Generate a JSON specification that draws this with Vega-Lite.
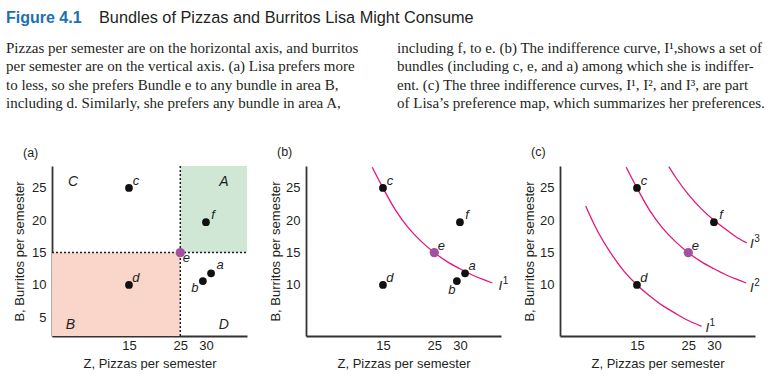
{
  "$schema": "https://vega.github.io/schema/vega-lite/v6.json",
  "padding": {"left": 6, "top": 0, "right": 0, "bottom": 0},
  "background": "white",
  "config": {
    "view": {"stroke": null},
    "axis": {
      "domainColor": "#333333", "domainWidth": 1.8, "ticks": false, "grid": false,
      "labelFont": "Liberation Sans", "labelFontSize": 13, "labelColor": "#231f20", "labelPadding": 6,
      "titleFont": "Liberation Sans", "titleFontSize": 13, "titleFontWeight": "normal", "titleColor": "#231f20"
    },
    "axisX": {"labelPadding": 3, "titlePadding": 5},
    "title": {"font": "Liberation Sans", "fontSize": 12.5, "fontWeight": "normal", "color": "#231f20", "anchor": "start", "frame": "group", "dx": -29, "offset": 6}
  },
  "datasets": {
    "header": [
      {"kind": "figure", "col": 0, "line": 0, "text": "Figure 4.1"},
      {"kind": "heading", "col": 0, "line": 0, "text": "Bundles of Pizzas and Burritos Lisa Might Consume"},
      {"kind": "para", "col": 0, "line": 1, "text": "Pizzas per semester are on the horizontal axis, and burritos"},
      {"kind": "para", "col": 0, "line": 2, "text": "per semester are on the vertical axis. (a) Lisa prefers more"},
      {"kind": "para", "col": 0, "line": 3, "text": "to less, so she prefers Bundle e to any bundle in area B,"},
      {"kind": "para", "col": 0, "line": 4, "text": "including d. Similarly, she prefers any bundle in area A,"},
      {"kind": "para", "col": 1, "line": 1, "text": "including f, to e. (b) The indifference curve, I¹,shows a set of"},
      {"kind": "para", "col": 1, "line": 2, "text": "bundles (including c, e, and a) among which she is indiffer-"},
      {"kind": "para", "col": 1, "line": 3, "text": "ent. (c) The three indifference curves, I¹, I², and I³, are part"},
      {"kind": "para", "col": 1, "line": 4, "text": "of Lisa’s preference map, which summarizes her preferences."}
    ],
    "bundles": [
      {"name": "a", "Z": 31, "B": 11.8},
      {"name": "b", "Z": 29.4, "B": 10.6},
      {"name": "c", "Z": 15, "B": 25},
      {"name": "d", "Z": 15, "B": 10},
      {"name": "e", "Z": 25, "B": 15},
      {"name": "f", "Z": 30, "B": 19.7}
    ],
    "regions": [
      {"region": "A", "Z": 25, "Z2": 38, "B": 15, "B2": 28.4},
      {"region": "B", "Z": 0, "Z2": 25, "B": 2.1, "B2": 15}
    ],
    "guides": [
      {"Z": 25, "Z2": 25, "B": 2.1, "B2": 28.4},
      {"Z": 0, "Z2": 38, "B": 15, "B2": 15}
    ],
    "regionLabels": [
      {"label": "C", "Z": 4.1, "B": 26},
      {"label": "A", "Z": 33.5, "B": 26},
      {"label": "B", "Z": 3.6, "B": 3.75},
      {"label": "D", "Z": 33.5, "B": 3.75}
    ],
    "curves": [
      {"curve": "mid", "Z": 12.9, "B": 28.2},
      {"curve": "mid", "Z": 15, "B": 25},
      {"curve": "mid", "Z": 17.5, "B": 21.5},
      {"curve": "mid", "Z": 20, "B": 18.8},
      {"curve": "mid", "Z": 22.5, "B": 16.7},
      {"curve": "mid", "Z": 25, "B": 15},
      {"curve": "mid", "Z": 27.5, "B": 13.6},
      {"curve": "mid", "Z": 30, "B": 12.5},
      {"curve": "mid", "Z": 32.5, "B": 11.5},
      {"curve": "mid", "Z": 35, "B": 10.7},
      {"curve": "mid", "Z": 36.3, "B": 10.3},
      {"curve": "low", "Z": 5, "B": 22.2},
      {"curve": "low", "Z": 7, "B": 18.8},
      {"curve": "low", "Z": 10, "B": 14.8},
      {"curve": "low", "Z": 12.5, "B": 12.1},
      {"curve": "low", "Z": 15, "B": 10},
      {"curve": "low", "Z": 17.5, "B": 8.3},
      {"curve": "low", "Z": 20, "B": 6.8},
      {"curve": "low", "Z": 22.5, "B": 5.6},
      {"curve": "low", "Z": 25, "B": 4.5},
      {"curve": "low", "Z": 27.6, "B": 3.6},
      {"curve": "high", "Z": 21.2, "B": 28.3},
      {"curve": "high", "Z": 22.5, "B": 26.7},
      {"curve": "high", "Z": 25, "B": 24},
      {"curve": "high", "Z": 27.5, "B": 21.8},
      {"curve": "high", "Z": 30, "B": 20},
      {"curve": "high", "Z": 32.5, "B": 18.5},
      {"curve": "high", "Z": 35, "B": 17.1},
      {"curve": "high", "Z": 36.4, "B": 16.5}
    ],
    "curveLabels": [
      {"panel": "b", "label": "I", "sup": "1", "Z": 37.9, "B": 9.85},
      {"panel": "c", "label": "I", "sup": "1", "Z": 28.7, "B": 3.3},
      {"panel": "c", "label": "I", "sup": "2", "Z": 37.4, "B": 9.6},
      {"panel": "c", "label": "I", "sup": "3", "Z": 37.4, "B": 16.4}
    ]
  },
  "vconcat": [
    {
      "width": 720,
      "height": 115,
      "layer": [
        {
          "data": {"name": "header"},
          "transform": [{"filter": "datum.kind === 'para'"}],
          "mark": {"type": "text", "align": "left", "baseline": "alphabetic", "font": "Liberation Serif", "fontSize": 15, "color": "#231f20"},
          "encoding": {
            "x": {"field": "col", "type": "quantitative", "scale": {"domain": [0, 1], "range": [-46, 345]}, "axis": null},
            "y": {"field": "line", "type": "quantitative", "scale": {"domain": [1, 4], "range": [53, 108]}, "axis": null},
            "text": {"field": "text"}
          }
        },
        {
          "data": {"name": "header"},
          "transform": [{"filter": "datum.kind === 'figure'"}],
          "mark": {"type": "text", "align": "left", "baseline": "alphabetic", "font": "Liberation Sans", "fontWeight": "bold", "fontSize": 16, "color": "#1d70b0", "dy": -12},
          "encoding": {
            "x": {"field": "col", "type": "quantitative"},
            "y": {"field": "line", "type": "quantitative"},
            "text": {"field": "text"}
          }
        },
        {
          "data": {"name": "header"},
          "transform": [{"filter": "datum.kind === 'heading'"}],
          "mark": {"type": "text", "align": "left", "baseline": "alphabetic", "font": "Liberation Sans", "fontSize": 16.3, "color": "#231f20", "dx": 93, "dy": -12},
          "encoding": {
            "x": {"field": "col", "type": "quantitative"},
            "y": {"field": "line", "type": "quantitative"},
            "text": {"field": "text"}
          }
        }
      ]
    },
    {
      "hconcat": [
        {
          "width": 195, "height": 170,
          "title": {"text": "(a)"},
          "encoding": {
            "x": {"field": "Z", "type": "quantitative", "scale": {"domain": [0, 38], "nice": false, "zero": false}, "axis": {"values": [15, 25, 30], "title": "Z, Pizzas per semester"}},
            "y": {"field": "B", "type": "quantitative", "scale": {"domain": [2.1, 28.4], "nice": false, "zero": false}, "axis": {"values": [5, 10, 15, 20, 25], "title": "B, Burritos per semester", "titlePadding": 5}}
          },
          "layer": [
            {
              "data": {"name": "regions"},
              "mark": {"type": "rect"},
              "encoding": {
                "x2": {"field": "Z2"},
                "y2": {"field": "B2"},
                "color": {"field": "region", "type": "nominal", "scale": {"domain": ["A", "B"], "range": ["#d0e7d6", "#f9d5ca"]}, "legend": null}
              }
            },
            {
              "data": {"name": "guides"},
              "mark": {"type": "rule", "strokeDash": [2, 2], "strokeWidth": 1.5, "color": "#231f20"},
              "encoding": {"x2": {"field": "Z2"}, "y2": {"field": "B2"}}
            },
            {
              "data": {"name": "regionLabels"},
              "mark": {"type": "text", "font": "Liberation Sans", "fontStyle": "italic", "fontSize": 14, "color": "#231f20"},
              "encoding": {"text": {"field": "label"}}
            },
            {
              "data": {"name": "bundles"},
              "transform": [{"filter": "datum.name !== 'e'"}],
              "mark": {"type": "point", "filled": true, "size": 60, "color": "#111111", "opacity": 1}
            },
            {
              "data": {"name": "bundles"},
              "transform": [{"filter": "datum.name === 'e'"}],
              "mark": {"type": "point", "filled": true, "size": 85, "color": "#a2509f", "opacity": 1}
            },
            {
              "data": {"name": "bundles"},
              "transform": [{"filter": {"field": "name", "oneOf": ["c", "d", "f"]}}],
              "mark": {"type": "text", "font": "Liberation Sans", "fontStyle": "italic", "fontSize": 13, "color": "#231f20", "dx": 7, "dy": -7},
              "encoding": {"text": {"field": "name"}}
            },
            {
              "data": {"name": "bundles"},
              "transform": [{"filter": "datum.name === 'a'"}],
              "mark": {"type": "text", "font": "Liberation Sans", "fontStyle": "italic", "fontSize": 13, "color": "#231f20", "dx": 9, "dy": -8},
              "encoding": {"text": {"field": "name"}}
            },
            {
              "data": {"name": "bundles"},
              "transform": [{"filter": "datum.name === 'b'"}],
              "mark": {"type": "text", "font": "Liberation Sans", "fontStyle": "italic", "fontSize": 13, "color": "#231f20", "dx": -8, "dy": 7},
              "encoding": {"text": {"field": "name"}}
            },
            {
              "data": {"name": "bundles"},
              "transform": [{"filter": "datum.name === 'e'"}],
              "mark": {"type": "text", "font": "Liberation Sans", "fontStyle": "italic", "fontSize": 13, "color": "#231f20", "dx": 6, "dy": 5},
              "encoding": {"text": {"field": "name"}}
            }
          ]
        },
        {
          "width": 195, "height": 170,
          "title": {"text": "(b)"},
          "encoding": {
            "x": {"field": "Z", "type": "quantitative", "scale": {"domain": [0, 38], "nice": false, "zero": false}, "axis": {"values": [15, 25, 30], "title": "Z, Pizzas per semester"}},
            "y": {"field": "B", "type": "quantitative", "scale": {"domain": [2.1, 28.4], "nice": false, "zero": false}, "axis": {"values": [10, 15, 20, 25], "title": "B, Burritos per semester", "titlePadding": 3}}
          },
          "layer": [
            {
              "data": {"name": "curves"},
              "transform": [{"filter": "datum.curve === 'mid'"}],
              "mark": {"type": "line", "color": "#e5157c", "strokeWidth": 1.3, "interpolate": "monotone"}
            },
            {
              "data": {"name": "curveLabels"},
              "transform": [{"filter": "datum.panel === 'b'"}],
              "mark": {"type": "text", "font": "Liberation Sans", "fontStyle": "italic", "fontSize": 13.5, "color": "#231f20"},
              "encoding": {"text": {"field": "label"}}
            },
            {
              "data": {"name": "curveLabels"},
              "transform": [{"filter": "datum.panel === 'b'"}],
              "mark": {"type": "text", "font": "Liberation Sans", "fontSize": 10, "color": "#231f20", "dx": 5, "dy": -5},
              "encoding": {"text": {"field": "sup"}}
            },
            {
              "data": {"name": "bundles"},
              "transform": [{"filter": "datum.name !== 'e'"}],
              "mark": {"type": "point", "filled": true, "size": 60, "color": "#111111", "opacity": 1}
            },
            {
              "data": {"name": "bundles"},
              "transform": [{"filter": "datum.name === 'e'"}],
              "mark": {"type": "point", "filled": true, "size": 85, "color": "#a2509f", "opacity": 1}
            },
            {
              "data": {"name": "bundles"},
              "transform": [{"filter": "datum.name !== 'b'"}],
              "mark": {"type": "text", "font": "Liberation Sans", "fontStyle": "italic", "fontSize": 13, "color": "#231f20", "dx": 7, "dy": -7},
              "encoding": {"text": {"field": "name"}}
            },
            {
              "data": {"name": "bundles"},
              "transform": [{"filter": "datum.name === 'b'"}],
              "mark": {"type": "text", "font": "Liberation Sans", "fontStyle": "italic", "fontSize": 13, "color": "#231f20", "dx": -5, "dy": 9},
              "encoding": {"text": {"field": "name"}}
            }
          ]
        },
        {
          "width": 195, "height": 170,
          "title": {"text": "(c)"},
          "encoding": {
            "x": {"field": "Z", "type": "quantitative", "scale": {"domain": [0, 38], "nice": false, "zero": false}, "axis": {"values": [15, 25, 30], "title": "Z, Pizzas per semester"}},
            "y": {"field": "B", "type": "quantitative", "scale": {"domain": [2.1, 28.4], "nice": false, "zero": false}, "axis": {"values": [10, 15, 20, 25], "title": "B, Burritos per semester", "titlePadding": 3}}
          },
          "layer": [
            {
              "data": {"name": "curves"},
              "mark": {"type": "line", "color": "#e5157c", "strokeWidth": 1.3, "interpolate": "monotone"},
              "encoding": {"detail": {"field": "curve"}}
            },
            {
              "data": {"name": "curveLabels"},
              "transform": [{"filter": "datum.panel === 'c'"}],
              "mark": {"type": "text", "font": "Liberation Sans", "fontStyle": "italic", "fontSize": 13.5, "color": "#231f20"},
              "encoding": {"text": {"field": "label"}}
            },
            {
              "data": {"name": "curveLabels"},
              "transform": [{"filter": "datum.panel === 'c'"}],
              "mark": {"type": "text", "font": "Liberation Sans", "fontSize": 10, "color": "#231f20", "dx": 5, "dy": -5},
              "encoding": {"text": {"field": "sup"}}
            },
            {
              "data": {"name": "bundles"},
              "transform": [{"filter": {"field": "name", "oneOf": ["c", "d", "f"]}}],
              "mark": {"type": "point", "filled": true, "size": 60, "color": "#111111", "opacity": 1}
            },
            {
              "data": {"name": "bundles"},
              "transform": [{"filter": "datum.name === 'e'"}],
              "mark": {"type": "point", "filled": true, "size": 85, "color": "#a2509f", "opacity": 1}
            },
            {
              "data": {"name": "bundles"},
              "transform": [{"filter": {"field": "name", "oneOf": ["c", "d", "e", "f"]}}],
              "mark": {"type": "text", "font": "Liberation Sans", "fontStyle": "italic", "fontSize": 13, "color": "#231f20", "dx": 7, "dy": -7},
              "encoding": {"text": {"field": "name"}}
            }
          ]
        }
      ],
      "spacing": 59,
      "bounds": "flush"
    }
  ],
  "spacing": 30
}
